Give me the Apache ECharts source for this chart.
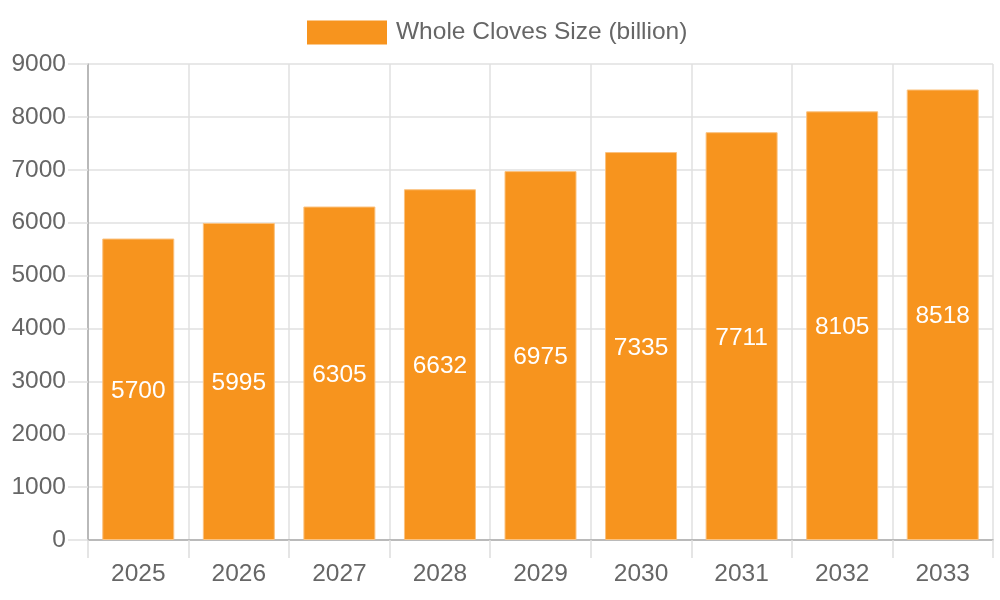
<!DOCTYPE html>
<html>
<head>
<meta charset="utf-8">
<script src="https://cdn.jsdelivr.net/npm/echarts@6/dist/echarts.min.js"></script>
<style>
  html, body { margin: 0; padding: 0; background: #fff; }
  #chart { width: 1000px; height: 600px; }
</style>
</head>
<body>
<div id="chart"></div>
<script>
const years = ["2025", "2026", "2027", "2028", "2029", "2030", "2031", "2032", "2033"];
const sizes = [5700, 5995, 6305, 6632, 6975, 7335, 7711, 8105, 8518];
const seriesName = "Whole Cloves Size (billion)";

const chart = echarts.init(document.getElementById("chart"));
const font = "Liberation Sans, Arial, sans-serif";

chart.setOption({
  animation: false,
  legend: {
    top: 15,
    left: 302,
    icon: "rect",
    itemWidth: 80,
    itemHeight: 24,
    itemGap: 10,
    itemStyle: { borderWidth: 0 },
    textStyle: { fontFamily: font, fontSize: 24.5, color: "#666", padding: [0, 0, 0, 4] },
    data: [seriesName]
  },
  grid: { left: 88, right: 7, top: 64, bottom: 60 },
  xAxis: {
    type: "category",
    data: years,
    axisLine: { lineStyle: { color: "#aaa", width: 1.5 } },
    axisTick: { show: true, length: 18, lineStyle: { color: "#ddd", width: 1.5 } },
    splitLine: { show: true, lineStyle: { color: "#e0e0e0", width: 1.5 } },
    axisLabel: { fontFamily: font, fontSize: 24.5, color: "#666", margin: 22 }
  },
  yAxis: {
    type: "value",
    min: 0,
    max: 9000,
    interval: 1000,
    axisLine: { show: true, lineStyle: { color: "#aaa", width: 1.5 } },
    axisTick: { show: true, length: 20, lineStyle: { color: "#e0e0e0", width: 1.5 } },
    splitLine: { lineStyle: { color: "#e0e0e0", width: 1.5 } },
    axisLabel: {
      fontFamily: font, fontSize: 24.5, color: "#666", margin: 22,
      formatter: v => String(v)
    }
  },
  series: [{
    name: seriesName,
    type: "bar",
    data: sizes,
    barWidth: 72,
    itemStyle: { color: "#f7941e", borderColor: "#fbc27f", borderWidth: 1 },
    label: {
      show: true,
      position: "inside",
      offset: [0, 2],
      color: "#fff",
      fontFamily: font,
      fontSize: 24.5
    }
  }]
});
</script>
</body>
</html>
